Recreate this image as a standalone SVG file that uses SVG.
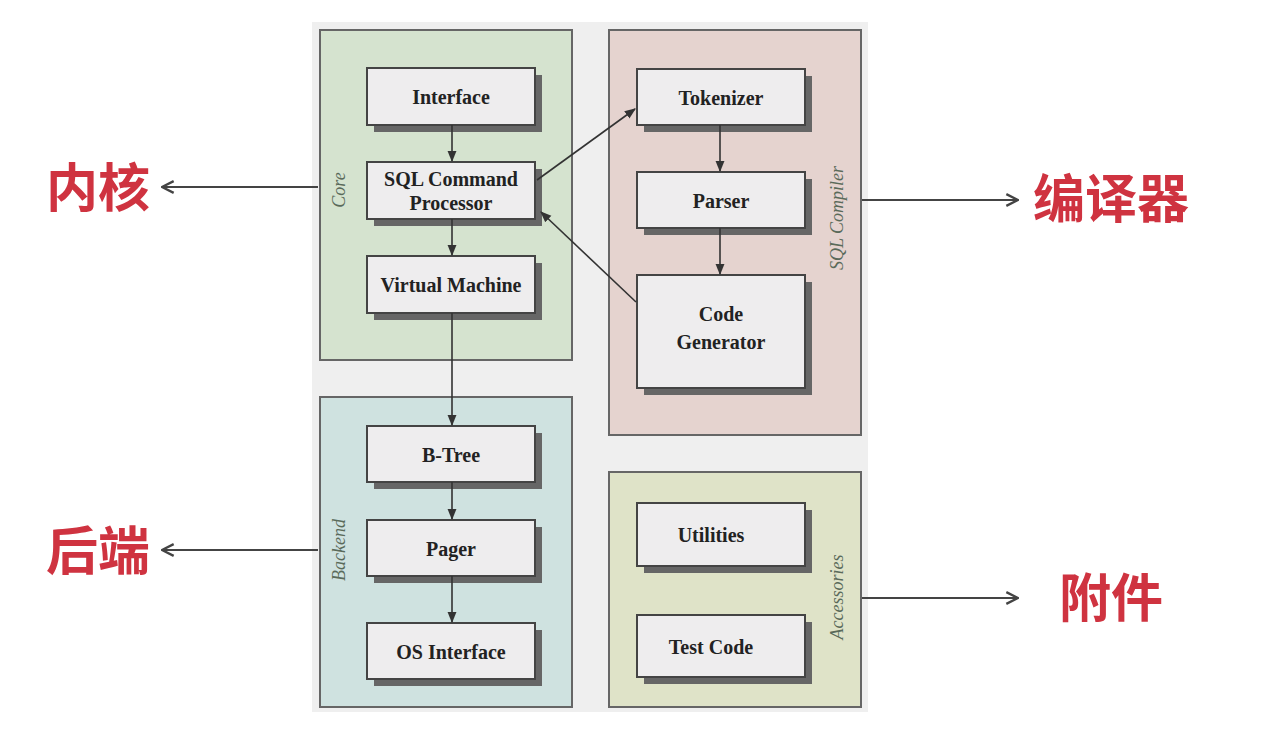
<svg xmlns="http://www.w3.org/2000/svg" width="1288" height="742" viewBox="0 0 1288 742">
<defs>
<marker id="a" viewBox="0 0 10 10" refX="9" refY="5" markerWidth="7" markerHeight="7" orient="auto"><path d="M0,1 L10,5 L0,9 z" fill="#333"/></marker>
<marker id="o" viewBox="0 0 12 12" refX="11" refY="6" markerWidth="14" markerHeight="14" markerUnits="userSpaceOnUse" orient="auto"><path d="M1,1 L11,6 L1,11" fill="none" stroke="#444" stroke-width="2"/></marker>
<style>
.grp{stroke:#666;stroke-width:2}
.sh{fill:#666}
.n{fill:#eeedee;stroke:#444;stroke-width:2}
.t{font-family:"Liberation Serif",serif;font-weight:bold;font-size:20px;fill:#222;text-anchor:middle}
.g{font-family:"Liberation Serif",serif;font-style:italic;font-size:18px;fill:#5a6a5a;text-anchor:middle}
.c{stroke:#333;stroke-width:1.6;fill:none}
.x{stroke:#444;stroke-width:2;fill:none}
.z{font-family:"Noto Sans CJK SC",sans-serif;font-weight:bold;font-size:52px;fill:#cf3340;text-anchor:middle}
</style>
</defs>
<rect width="1288" height="742" fill="#fff"/>
<rect x="312" y="22" width="556" height="690" fill="#efefef"/>
<g id="core"><rect class="grp" x="320" y="30" width="252" height="330" fill="#d5e3cf"/><text class="g" transform="translate(345,190) rotate(-90)">Core</text></g>
<g id="compiler"><rect class="grp" x="609" y="30" width="252" height="405" fill="#e5d3cf"/><text class="g" transform="translate(843,218) rotate(-90)">SQL Compiler</text></g>
<g id="backend"><rect class="grp" x="320" y="397" width="252" height="310" fill="#cfe2e0"/><text class="g" transform="translate(345,550) rotate(-90)">Backend</text></g>
<g id="accessories"><rect class="grp" x="609" y="472" width="252" height="235" fill="#dfe3c8"/><text class="g" transform="translate(843,597) rotate(-90)">Accessories</text></g>
<g id="interface"><rect class="sh" x="374" y="75" width="168" height="57"/><rect class="n" x="367" y="68" width="168" height="57"/><text class="t" x="451" y="104">Interface</text></g>
<g id="sqlcmd"><rect class="sh" x="374" y="169" width="168" height="57"/><rect class="n" x="367" y="162" width="168" height="57"/><text class="t" x="451" y="186">SQL Command</text><text class="t" x="451" y="210">Processor</text></g>
<g id="vm"><rect class="sh" x="374" y="263" width="168" height="57"/><rect class="n" x="367" y="256" width="168" height="57"/><text class="t" x="451" y="292">Virtual Machine</text></g>
<g id="tokenizer"><rect class="sh" x="644" y="76" width="168" height="56"/><rect class="n" x="637" y="69" width="168" height="56"/><text class="t" x="721" y="105">Tokenizer</text></g>
<g id="parser"><rect class="sh" x="644" y="179" width="168" height="56"/><rect class="n" x="637" y="172" width="168" height="56"/><text class="t" x="721" y="208">Parser</text></g>
<g id="codegen"><rect class="sh" x="644" y="282" width="168" height="113"/><rect class="n" x="637" y="275" width="168" height="113"/><text class="t" x="721" y="321">Code</text><text class="t" x="721" y="349">Generator</text></g>
<g id="btree"><rect class="sh" x="374" y="433" width="168" height="56"/><rect class="n" x="367" y="426" width="168" height="56"/><text class="t" x="451" y="462">B-Tree</text></g>
<g id="pager"><rect class="sh" x="374" y="527" width="168" height="56"/><rect class="n" x="367" y="520" width="168" height="56"/><text class="t" x="451" y="556">Pager</text></g>
<g id="osif"><rect class="sh" x="374" y="630" width="168" height="56"/><rect class="n" x="367" y="623" width="168" height="56"/><text class="t" x="451" y="659">OS Interface</text></g>
<g id="utilities"><rect class="sh" x="644" y="510" width="168" height="63"/><rect class="n" x="637" y="503" width="168" height="63"/><text class="t" x="711" y="542">Utilities</text></g>
<g id="testcode"><rect class="sh" x="644" y="622" width="168" height="62"/><rect class="n" x="637" y="615" width="168" height="62"/><text class="t" x="711" y="654">Test Code</text></g>
<g id="connectors">
<line class="c" x1="452" y1="125" x2="452" y2="161" marker-end="url(#a)"/>
<line class="c" x1="452" y1="219" x2="452" y2="255" marker-end="url(#a)"/>
<line class="c" x1="452" y1="313" x2="452" y2="425" marker-end="url(#a)"/>
<line class="c" x1="452" y1="482" x2="452" y2="519" marker-end="url(#a)"/>
<line class="c" x1="452" y1="576" x2="452" y2="622" marker-end="url(#a)"/>
<line class="c" x1="720" y1="125" x2="720" y2="171" marker-end="url(#a)"/>
<line class="c" x1="720" y1="228" x2="720" y2="274" marker-end="url(#a)"/>
<line class="c" x1="537" y1="180" x2="635" y2="109" marker-end="url(#a)"/>
<line class="c" x1="636" y1="302" x2="541" y2="212" marker-end="url(#a)"/>
<line class="x" x1="318" y1="187" x2="162" y2="187" marker-end="url(#o)"/>
<line class="x" x1="318" y1="550" x2="162" y2="550" marker-end="url(#o)"/>
<line class="x" x1="862" y1="200" x2="1018" y2="200" marker-end="url(#o)"/>
<line class="x" x1="862" y1="598" x2="1018" y2="598" marker-end="url(#o)"/>
</g>
<g id="labels">
<text class="z" x="98" y="207">内核</text>
<text class="z" x="98" y="570">后端</text>
<text class="z" x="1111" y="218">编译器</text>
<text class="z" x="1111" y="617">附件</text>
</g>
</svg>
